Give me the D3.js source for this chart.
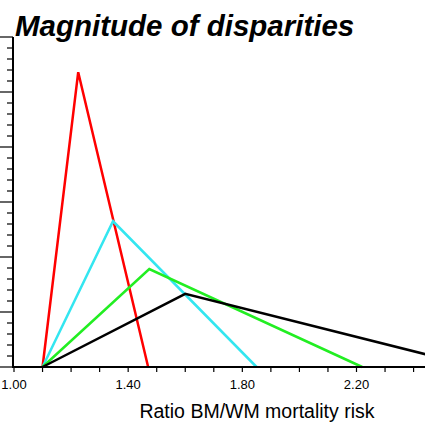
<!DOCTYPE html><html><head><script src="https://cdn.jsdelivr.net/npm/d3@7"></script>
<style>body{margin:0;background:#fff}</style></head><body><svg id="c" width="425" height="425"></svg>
<script>
const seriesNames=["red","cyan","green","black"];
const seriesColors=["#ff0000","#33e6f0","#22ee22","#000000"];
const seriesX=[[1.10,1.225,1.47],[1.10,1.347,1.85],[1.10,1.474,2.22],[1.10,1.60,2.62]];
const seriesY=[[0,5.36,0],[0,2.65,0],[0,1.78,0],[0,1.33,0]];
const xTicks=[1.0,1.4,1.8,2.2];
const svg=d3.select("#c");
const x=d3.scaleLinear().domain([1.0,2.44]).range([14,425]);
const y=d3.scaleLinear().domain([0,6]).range([367,37]);
svg.append("defs").append("clipPath").attr("id","cp").append("rect").attr("x",0).attr("y",0).attr("width",425).attr("height",425);
const g=svg.append("g").attr("clip-path","url(#cp)");
const line=d3.line().x(d=>x(d[0])).y(d=>y(d[1]));
seriesX.forEach((xs,i)=>{g.append("path").attr("d",line(xs.map((v,j)=>[v,seriesY[i][j]]))).attr("fill","none").attr("stroke",seriesColors[i]).attr("stroke-width",2.5).attr("stroke-linejoin","miter");});
const xa=svg.append("g").attr("transform","translate(0,367)");
xa.append("line").attr("x1",14).attr("x2",425).attr("stroke","#000").attr("stroke-width",2);
d3.range(1.0,2.45,0.1).forEach(t=>xa.append("line").attr("x1",x(t)).attr("x2",x(t)).attr("y1",0).attr("y2",5).attr("stroke","#000").attr("stroke-width",1.2));
xTicks.forEach(t=>xa.append("text").attr("x",x(t)).attr("y",22).attr("text-anchor","middle").attr("font-family","Liberation Sans, Arial").attr("font-size",13).text(t.toFixed(2)));
const ya=svg.append("g").attr("transform","translate(13,0)");
ya.append("line").attr("y1",37).attr("y2",368).attr("stroke","#000").attr("stroke-width",2);
d3.range(0,30.5,1).forEach(k=>{const v=k/5;ya.append("line").attr("x1",0).attr("x2",k%5===0?-13:-6).attr("y1",y(v)).attr("y2",y(v)).attr("stroke","#000").attr("stroke-width",1.2);});
svg.append("text").attr("x",15).attr("y",36).attr("font-family","Liberation Sans, Arial").attr("font-weight","bold").attr("font-style","italic").attr("font-size",29.5).text("Magnitude of disparities");
svg.append("text").attr("x",257).attr("y",418).attr("text-anchor","middle").attr("font-family","Liberation Sans, Arial").attr("font-size",19.5).text("Ratio BM/WM mortality risk");
</script></body></html>
